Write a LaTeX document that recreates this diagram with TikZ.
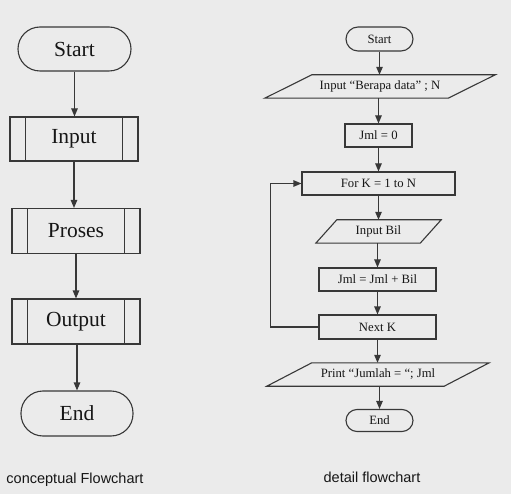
\documentclass[tikz,border=0pt]{standalone}
\usepackage{fontspec}
\setmainfont{Liberation Serif}
\newfontfamily\captionfont{Liberation Sans}
\usetikzlibrary{arrows.meta}
\definecolor{bgc}{HTML}{EBEBEB}
\definecolor{linec}{HTML}{383838}
\definecolor{textc}{HTML}{161616}
\newcommand{\chartbig}{\fontsize{21.5}{24}\selectfont}
\newcommand{\chartsmall}{\fontsize{12.7}{15}\selectfont}
\tikzstyle{flowline} = [
    draw=linec,
    line width=1.1pt
    ]
\tikzstyle{flowarrow} = [
    flowline,
    -{Triangle[length=8pt,width=6.5pt]}
    ]
\tikzstyle{process} = [
    flowline,
    rectangle,
    inner sep=0pt,
    text=textc
    ]
\tikzstyle{terminal} = [
    process,
    rounded corners=12pt
    ]
\tikzstyle{subproc} = [
    process,
    font=\chartbig,
    minimum width=128pt,
    minimum height=44pt,
    path picture={
        \draw[flowline] ([xshift=15.5pt]path picture bounding box.north west) -- ([xshift=15.5pt]path picture bounding box.south west)
            ([xshift=-15.5pt]path picture bounding box.north east) -- ([xshift=-15.5pt]path picture bounding box.south east);
    }
    ]
\tikzset{
    io/.style={
        inner sep=0pt,
        text=textc,
        minimum height=23pt,
        append after command={\pgfextra{
            \draw[flowline] ([xshift=#1]\tikzlastnode.north west) -- (\tikzlastnode.north east)
                -- ([xshift=-#1]\tikzlastnode.south east) -- (\tikzlastnode.south west) -- cycle;
        }}
    },
    io/.default=20pt
}

\begin{document}
\begin{tikzpicture}[x=1pt, y=-1pt]
\fill[bgc] (0,0) rectangle (511,494);
\useasboundingbox (0,0) rectangle (511,494);

% conceptual flowchart
\node[terminal, rounded corners=22pt, font=\chartbig, minimum width=113pt, minimum height=44pt] (start1) at (74.5,49) {Start};
\node[subproc] (input1) at (74,139) {Input};
\node[subproc, minimum height=45pt] (proses1) at (76,231) {Proses};
\node[subproc, minimum height=45pt] (output1) at (76,321.5) {Output};
\node[terminal, rounded corners=22pt, font=\chartbig, minimum width=112pt, minimum height=45pt] (end1) at (77,413.5) {End};

\draw[flowarrow] (start1.south) -- (start1.south |- input1.north);
\draw[flowarrow] (input1.south) -- (input1.south |- proses1.north);
\draw[flowarrow] (proses1.south) -- (proses1.south |- output1.north);
\draw[flowarrow] (end1.north |- output1.south) -- (end1.north);

\node[font=\captionfont\fontsize{14.5}{17}\selectfont, text=textc] (cap1) at (75,480) {conceptual Flowchart};

% detail flowchart
\node[terminal, font=\chartsmall, minimum width=67pt, minimum height=24pt] (start2) at (379.5,39) {Start};
\node[io=47pt, font=\chartsmall, minimum width=230pt] (data) at (380,86.5) {Input “Berapa data” ; N};
\node[process, font=\chartsmall, minimum width=67pt, minimum height=23pt] (jml0) at (378.5,135.5) {Jml = 0};
\node[process, font=\chartsmall, minimum width=153pt, minimum height=23pt] (fork) at (378.5,183.5) {For K = 1 to N};
\node[io=21pt, font=\chartsmall, minimum width=125pt] (bil) at (378.5,231.5) {Input Bil};
\node[process, font=\chartsmall, minimum width=117pt, minimum height=23pt] (jmlbil) at (377.5,279.5) {Jml = Jml + Bil};
\node[process, font=\chartsmall, minimum width=117pt, minimum height=24pt] (nextk) at (377.5,327) {Next K};
\node[io=45pt, font=\chartsmall, minimum width=222pt] (print) at (378,374.5) {Print “Jumlah = “; Jml};
\node[terminal, rounded corners=11pt, font=\chartsmall, minimum width=67pt, minimum height=22pt] (end2) at (379.5,420.5) {End};

\draw[flowarrow] (start2.south) -- (start2.south |- data.north);
\draw[flowarrow] (jml0.north |- data.south) -- (jml0.north);
\draw[flowarrow] (jml0.south) -- (jml0.south |- fork.north);
\draw[flowarrow] (fork.south) -- (fork.south |- bil.north);
\draw[flowarrow] (jmlbil.north |- bil.south) -- (jmlbil.north);
\draw[flowarrow] (jmlbil.south) -- (jmlbil.south |- nextk.north);
\draw[flowarrow] (nextk.south) -- (nextk.south |- print.north);
\draw[flowarrow] (end2.north |- print.south) -- (end2.north);
\draw[flowarrow] (nextk.west) -- ++(-48,0) |- (fork.west);

\node[font=\captionfont\fontsize{14.5}{17}\selectfont, text=textc] (cap2) at (372,477) {detail flowchart};
\end{tikzpicture}
\end{document}
